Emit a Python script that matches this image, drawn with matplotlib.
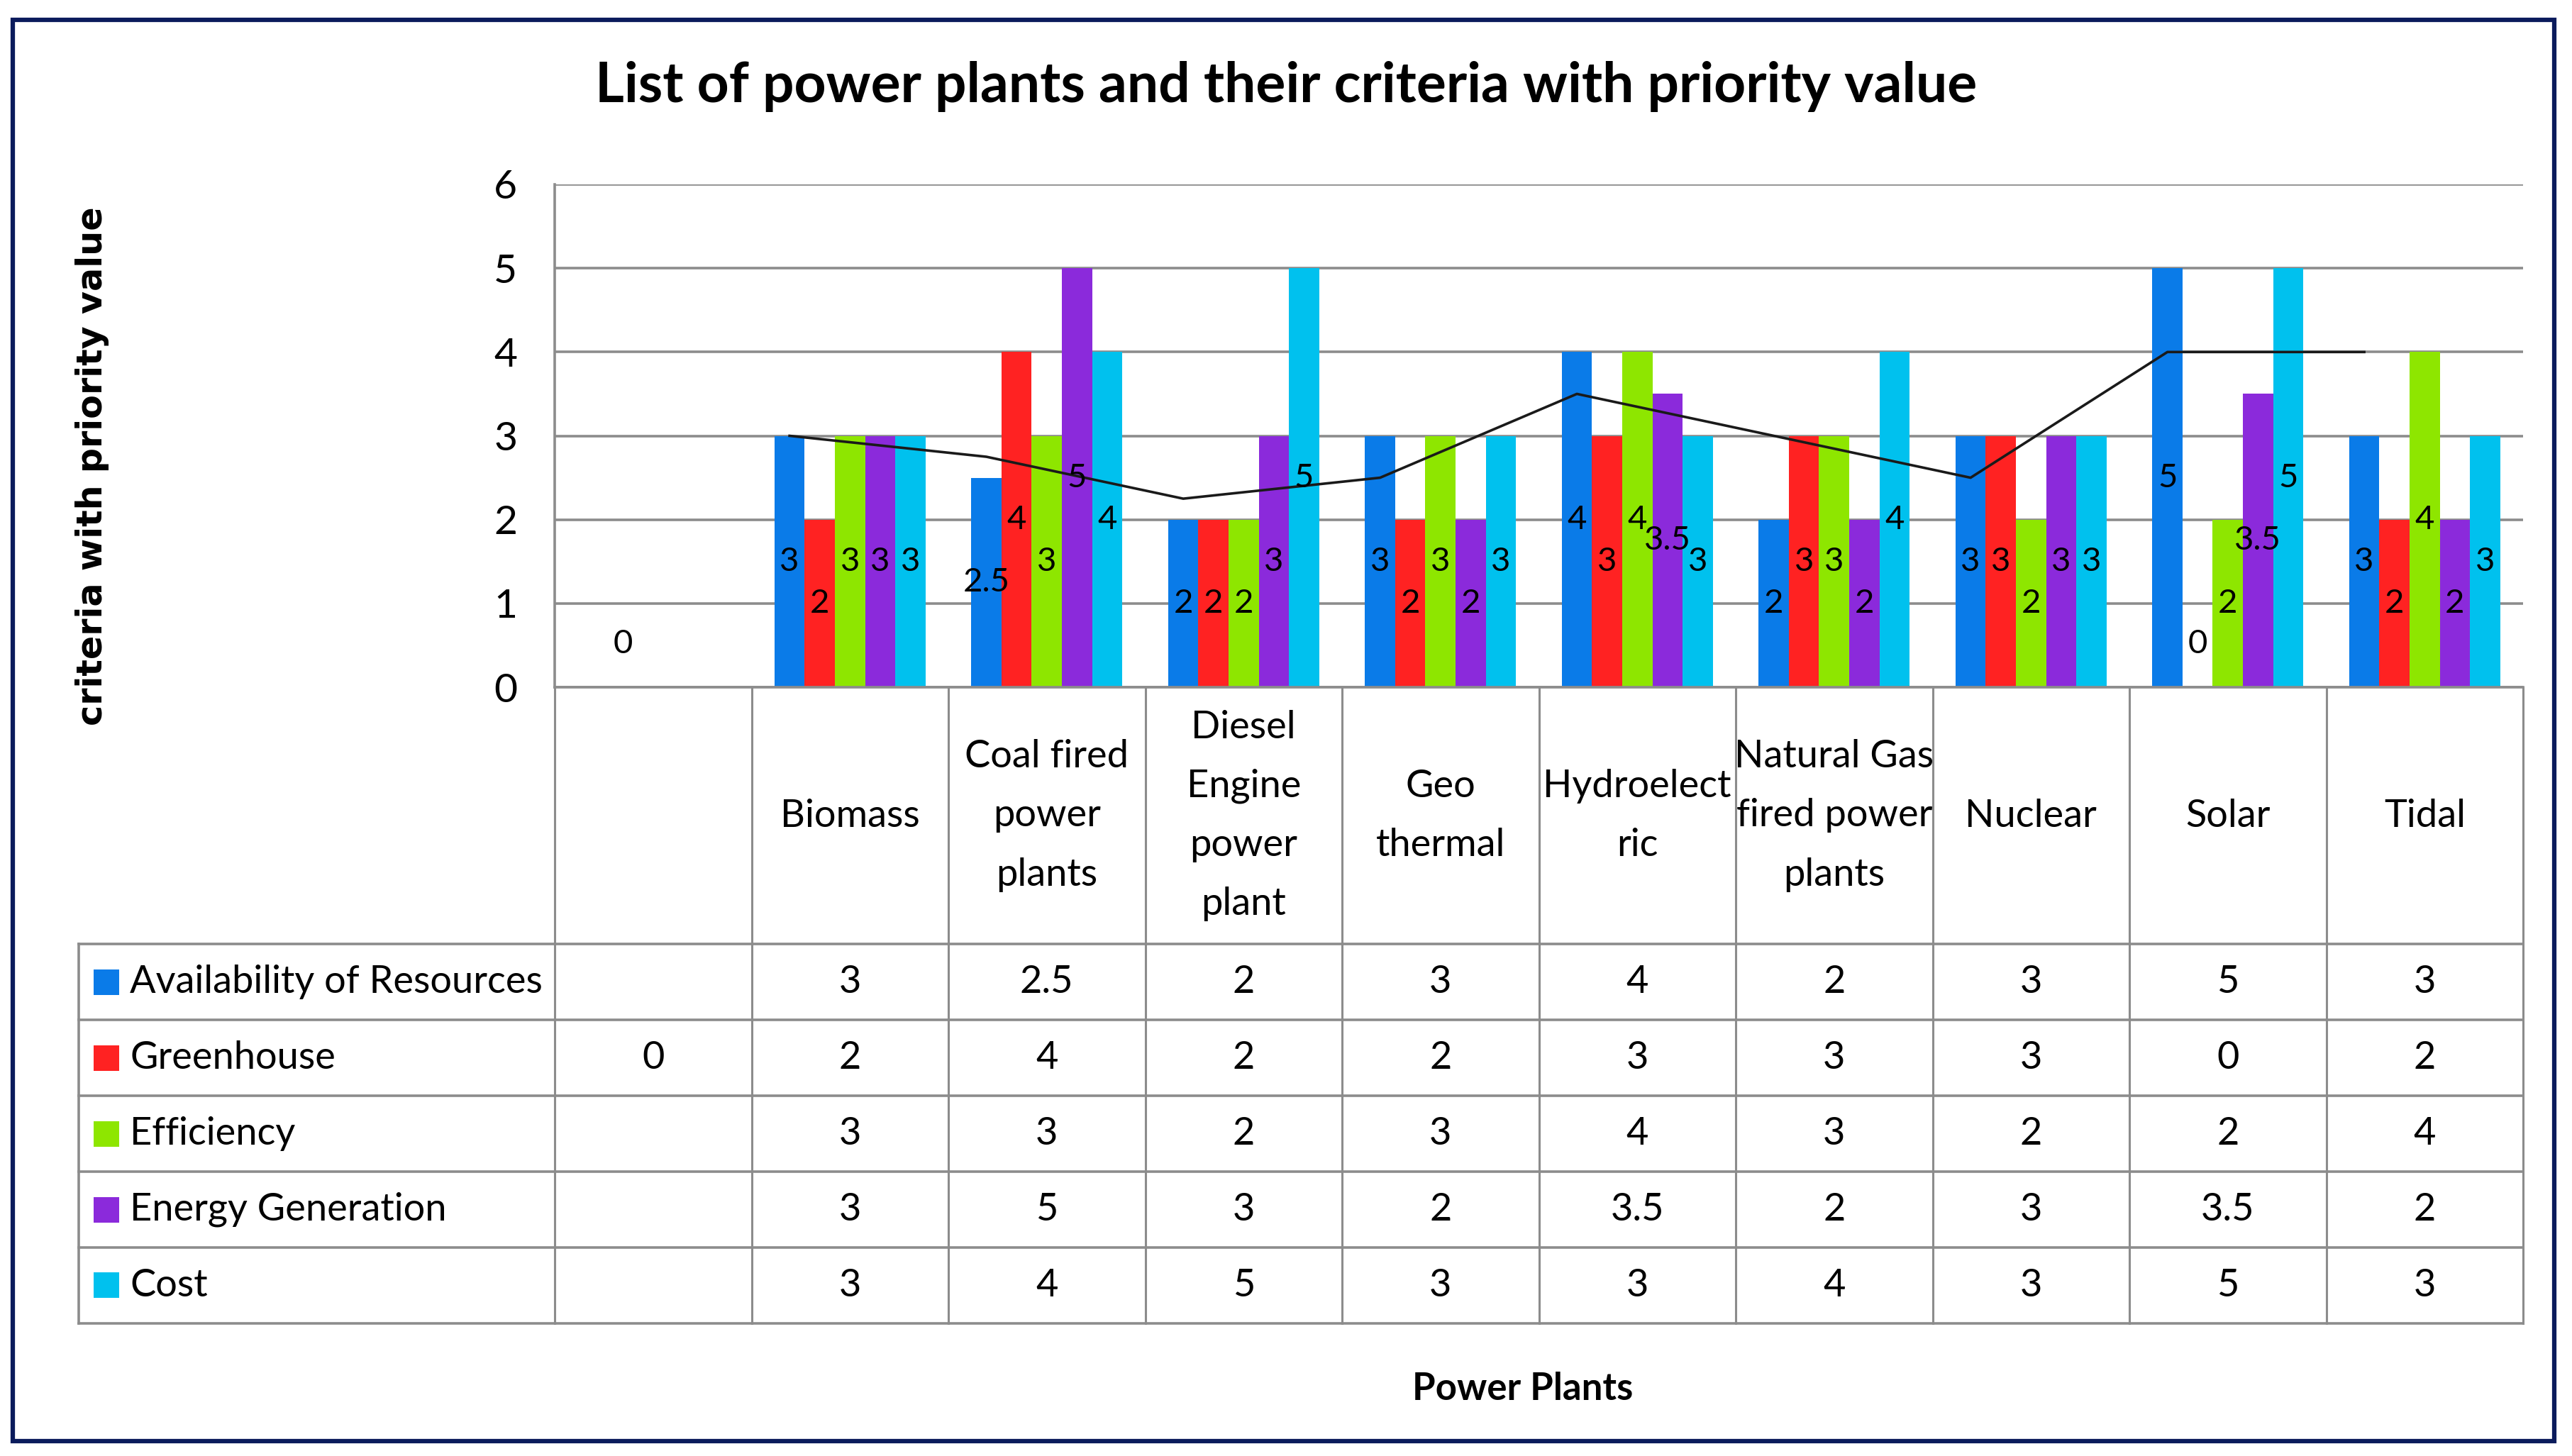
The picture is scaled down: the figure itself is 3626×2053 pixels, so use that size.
import numpy as np
import matplotlib
matplotlib.use("Agg")
import matplotlib.pyplot as plt
from matplotlib.patches import Rectangle

plt.rcParams['font.family'] = ['Lato', 'DejaVu Sans']

# categories (first one is an empty column in the original sheet)
plants = ["", "Biomass", "Coal fired\npower\nplants", "Diesel\nEngine\npower\nplant",
          "Geo\nthermal", "Hydroelect\nric", "Natural Gas\nfired power\nplants",
          "Nuclear", "Solar", "Tidal"]

series_names = ["Availability of Resources", "Greenhouse", "Efficiency",
                "Energy Generation", "Cost"]
availability = [np.nan, 3, 2.5, 2, 3, 4, 2, 3, 5, 3]
greenhouse = [0, 2, 4, 2, 2, 3, 3, 3, 0, 2]
efficiency = [np.nan, 3, 3, 2, 3, 4, 3, 2, 2, 4]
energy_gen = [np.nan, 3, 5, 3, 2, 3.5, 2, 3, 3.5, 2]
cost = [np.nan, 3, 4, 5, 3, 3, 4, 3, 5, 3]
# 2-period moving average trendline on availability
trend = [np.nan, 3, 2.75, 2.25, 2.5, 3.5, 3, 2.5, 4, 4]

colors = ['#0A7BE8', '#FF2222', '#8EE600', '#8B2ADB', '#00C1EE']
grid_col = '#8C8C8C'

W, H = 3626, 2053
def fx(x):
    return x / W
def fy(y):
    return 1 - y / H

fig = plt.figure(figsize=(W / 100, H / 100), dpi=100)

# ---- chart area ----
left, right, top, bottom = 782, 3557, 260, 969
ax = fig.add_axes([fx(left), fy(bottom), fx(right) - fx(left), fy(top) - fy(bottom)])
ax.set_xlim(-0.5, 9.5)
ax.set_ylim(0, 6)

data = [availability, greenhouse, efficiency, energy_gen, cost]
x = np.arange(len(plants))
w = 0.767 / 5
for i, vals in enumerate(data):
    xs = x + (i - 2) * w
    vals = np.array(vals, dtype=float)
    ax.bar(xs, vals, width=w, color=colors[i], zorder=3, linewidth=0)
    for xi, v in zip(xs, vals):
        if np.isnan(v):
            continue
        ypos = v / 2 if v > 0 else 0.52
        ax.text(xi, ypos, f"{v:g}", ha='center', va='center', fontsize=34,
                color='black', zorder=5)

ax.plot(x - 2 * w, trend, color='#1a1a1a', lw=2.6, zorder=4)

ax.set_yticks(range(7))
ax.set_yticklabels([str(t) for t in range(7)], fontsize=41)
ax.tick_params(axis='y', length=0, pad=38)
ax.set_xticks([])
ax.yaxis.grid(True, color=grid_col, lw=2.6, zorder=0)
for s in ['top', 'right', 'bottom']:
    ax.spines[s].set_visible(False)
ax.spines['left'].set_color(grid_col)
ax.spines['left'].set_linewidth(2.6)

# ---- data table ----
tleft, tbottom = 111, 1866
col_w = (right - left) / 10
row_h = (tbottom - 1331) / 5
head_h = (1331 - bottom) / row_h
x0 = -0.5 - (left - tleft) / col_w
tax = fig.add_axes([fx(tleft), fy(tbottom), fx(right) - fx(tleft), fy(bottom) - fy(tbottom)])
tax.set_xlim(x0, 9.5)
tax.set_ylim(5, -head_h)
tax.axis('off')

for r in range(6):
    tax.plot([x0, 9.5], [r, r], color=grid_col, lw=2.6, clip_on=False)
tax.plot([-0.5, 9.5], [-head_h, -head_h], color=grid_col, lw=2.6, clip_on=False)
for k in range(11):
    tax.plot([-0.5 + k, -0.5 + k], [-head_h, 5], color=grid_col, lw=2.2, clip_on=False)
tax.plot([x0, x0], [0, 5], color=grid_col, lw=2.6, clip_on=False)

for k, name in enumerate(plants):
    tax.text(k, -head_h / 2, name, ha='center', va='center', fontsize=39,
             linespacing=1.85)

sq_w = 36 / col_w
sq_h = 36 / row_h
for i, vals in enumerate(data):
    tax.add_patch(Rectangle((x0 + 21 / col_w, i + 0.5 - sq_h / 2), sq_w, sq_h,
                            color=colors[i], lw=0))
    tax.text(x0 + 72 / col_w, i + 0.5, series_names[i], ha='left', va='center',
             fontsize=39)
    for k, v in enumerate(vals):
        if np.isnan(v):
            continue
        tax.text(k, i + 0.5, f"{v:g}", ha='center', va='center', fontsize=39)

# ---- titles ----
fig.text(0.5, fy(122), "List of power plants and their criteria with priority value",
         ha='center', va='center', fontsize=56.5, fontweight='bold')
fig.text(fx(2147), fy(1958), "Power Plants", ha='center', va='center',
         fontsize=38, fontweight='bold')
fig.text(fx(130), fy(657), "criteria with priority value", rotation=90,
         ha='center', va='center', fontsize=35.5, fontweight='bold',
         family=['DejaVu Sans'])

# outer frame
fig.patches.append(Rectangle((fx(18), fy(2032)), fx(3601) - fx(18), fy(28) - fy(2032),
                             transform=fig.transFigure, fill=False,
                             edgecolor='#0B1B5C', lw=4.5))

fig.savefig("out.png", dpi=100, facecolor='white')
